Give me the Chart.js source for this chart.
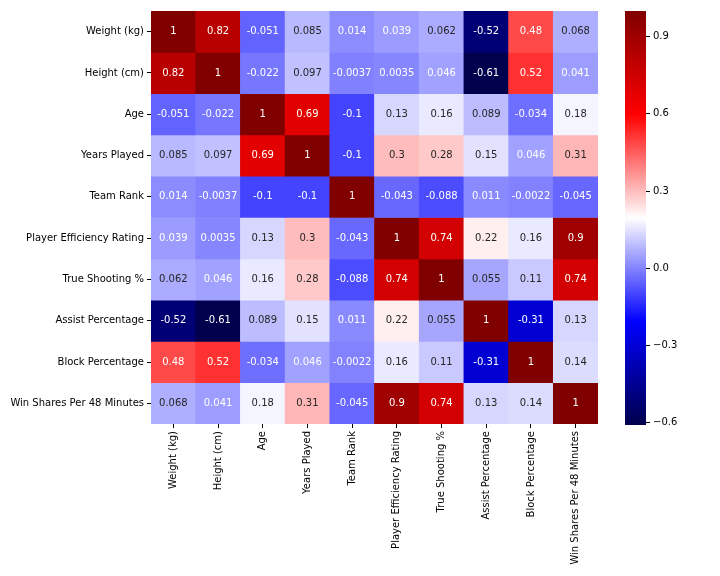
<!DOCTYPE html>
<html>
<head>
<meta charset="utf-8">
<script src="https://cdn.jsdelivr.net/npm/chart.js@4"></script>
<style>
  body { margin: 0; background: #fff; }
  .wrap { position: relative; width: 720px; height: 576px; }
  canvas { position: absolute; left: 0; top: 0; }
</style>
</head>
<body>
<div class="wrap">
  <canvas id="heat" width="720" height="576"></canvas>
  <canvas id="cbar" width="720" height="576"></canvas>
</div>
<script>
const labels = [
  'Weight (kg)', 'Height (cm)', 'Age', 'Years Played', 'Team Rank',
  'Player Efficiency Rating', 'True Shooting %', 'Assist Percentage',
  'Block Percentage', 'Win Shares Per 48 Minutes'
];

// correlation rows, as printed in the cells
const weightRow = [1, 0.82, -0.051, 0.085, 0.014, 0.039, 0.062, -0.52, 0.48, 0.068];
const heightRow = [0.82, 1, -0.022, 0.097, -0.0037, 0.0035, 0.046, -0.61, 0.52, 0.041];
const ageRow = [-0.051, -0.022, 1, 0.69, -0.1, 0.13, 0.16, 0.089, -0.034, 0.18];
const yearsRow = [0.085, 0.097, 0.69, 1, -0.1, 0.3, 0.28, 0.15, 0.046, 0.31];
const rankRow = [0.014, -0.0037, -0.1, -0.1, 1, -0.043, -0.088, 0.011, -0.0022, -0.045];
const perRow = [0.039, 0.0035, 0.13, 0.3, -0.043, 1, 0.74, 0.22, 0.16, 0.9];
const tsRow = [0.062, 0.046, 0.16, 0.28, -0.088, 0.74, 1, 0.055, 0.11, 0.74];
const astRow = [-0.52, -0.61, 0.089, 0.15, 0.011, 0.22, 0.055, 1, -0.31, 0.13];
const blkRow = [0.48, 0.52, -0.034, 0.046, -0.0022, 0.16, 0.11, -0.31, 1, 0.14];
const wsRow = [0.068, 0.041, 0.18, 0.31, -0.045, 0.9, 0.74, 0.13, 0.14, 1];
const matrix = [weightRow, heightRow, ageRow, yearsRow, rankRow, perRow, tsRow, astRow, blkRow, wsRow];

const cbarTicks = [-0.6, -0.3, 0, 0.3, 0.6, 0.9];
const vmin = -0.61, vmax = 1;

// matplotlib "seismic"
const stops = [
  [0.0, [0, 0, 0.3]],
  [0.25, [0, 0, 1]],
  [0.5, [1, 1, 1]],
  [0.75, [1, 0, 0]],
  [1.0, [0.5, 0, 0]],
];
function seismic(t) {
  t = Math.max(0, Math.min(1, t));
  for (let i = 1; i < stops.length; i++) {
    if (t <= stops[i][0]) {
      const [t0, c0] = stops[i - 1], [t1, c1] = stops[i];
      const f = (t - t0) / (t1 - t0);
      return c0.map((a, k) => a + (c1[k] - a) * f);
    }
  }
  return stops[stops.length - 1][1];
}
const toCss = c => `rgb(${c.map(v => Math.round(v * 255)).join(',')})`;
const norm = v => (v - vmin) / (vmax - vmin);
function lum(c) {
  const l = c.map(v => v <= 0.03928 ? v / 12.92 : Math.pow((v + 0.055) / 1.055, 2.4));
  return 0.2126 * l[0] + 0.7152 * l[1] + 0.0722 * l[2];
}
const fmt = v => Number(v.toPrecision(2)).toString();

Chart.defaults.font.family = 'DejaVu Sans';
Chart.defaults.font.size = 10;
Chart.defaults.color = '#000';

const cellText = {
  id: 'cellText',
  afterDatasetsDraw(chart) {
    const ctx = chart.ctx;
    ctx.save();
    ctx.font = '10px "DejaVu Sans"';
    ctx.textAlign = 'center';
    ctx.textBaseline = 'middle';
    chart.data.datasets.forEach((ds, r) => {
      chart.getDatasetMeta(r).data.forEach((el, c) => {
        const v = matrix[r][c];
        const col = seismic(norm(v));
        ctx.fillStyle = lum(col) > 0.408 ? '#262626' : '#fff';
        const p = el.getCenterPoint();
        ctx.fillText(fmt(v), p.x, p.y);
      });
    });
    ctx.restore();
  }
};

new Chart(document.getElementById('heat'), {
  type: 'bar',
  plugins: [cellText],
  data: {
    labels: labels,
    datasets: matrix.map((row, r) => ({
      label: labels[r],
      data: row.map(() => [r, r + 1]),
      backgroundColor: row.map(v => toCss(seismic(norm(v)))),
      borderWidth: 0,
      barPercentage: 1,
      categoryPercentage: 1,
      grouped: false,
    })),
  },
  options: {
    responsive: false,
    animation: false,
    events: [],
    layout: { padding: { top: 11, right: 122, left: 0, bottom: 0 } },
    plugins: { legend: { display: false }, tooltip: { enabled: false } },
    scales: {
      x: {
        type: 'category',
        afterFit: s => { s.height = 152; },
        border: { display: false },
        grid: { offset: false, drawOnChartArea: false, tickLength: 4, color: '#000' },
        ticks: { autoSkip: false, minRotation: 90, maxRotation: 90, padding: 3 },
      },
      y: {
        type: 'linear',
        min: 0,
        max: 10,
        reverse: true,
        afterFit: s => { s.width = 151; },
        afterBuildTicks: s => { s.ticks = labels.map((_, i) => ({ value: i + 0.5 })); },
        border: { display: false },
        grid: { drawOnChartArea: false, tickLength: 4, color: '#000' },
        ticks: { padding: 3, callback: (v, i) => labels[i] },
      },
    },
  },
});

new Chart(document.getElementById('cbar'), {
  type: 'bar',
  data: {
    labels: [''],
    datasets: [{
      data: [[vmin, vmax]],
      borderWidth: 0,
      barPercentage: 1,
      categoryPercentage: 1,
      backgroundColor: (c) => {
        const chart = c.chart;
        const area = chart.chartArea;
        if (!area) return 'transparent';
        const y = chart.scales.y;
        const g = chart.ctx.createLinearGradient(0, y.getPixelForValue(vmin), 0, y.getPixelForValue(vmax));
        stops.forEach(([t, col]) => g.addColorStop(t, toCss(col)));
        return g;
      },
    }],
  },
  options: {
    responsive: false,
    animation: false,
    events: [],
    layout: { padding: { top: 11, left: 625, right: 0, bottom: 151 } },
    plugins: { legend: { display: false }, tooltip: { enabled: false } },
    scales: {
      x: { display: false },
      y: {
        position: 'right',
        min: vmin,
        max: vmax,
        afterFit: s => { s.width = 74; },
        afterBuildTicks: s => { s.ticks = cbarTicks.map(v => ({ value: v })); },
        border: { display: false },
        grid: { drawOnChartArea: false, tickLength: 4, color: '#000' },
        ticks: { padding: 3, callback: v => v.toFixed(1).replace('-', '\u2212') },
      },
    },
  },
});
</script>
</body>
</html>
